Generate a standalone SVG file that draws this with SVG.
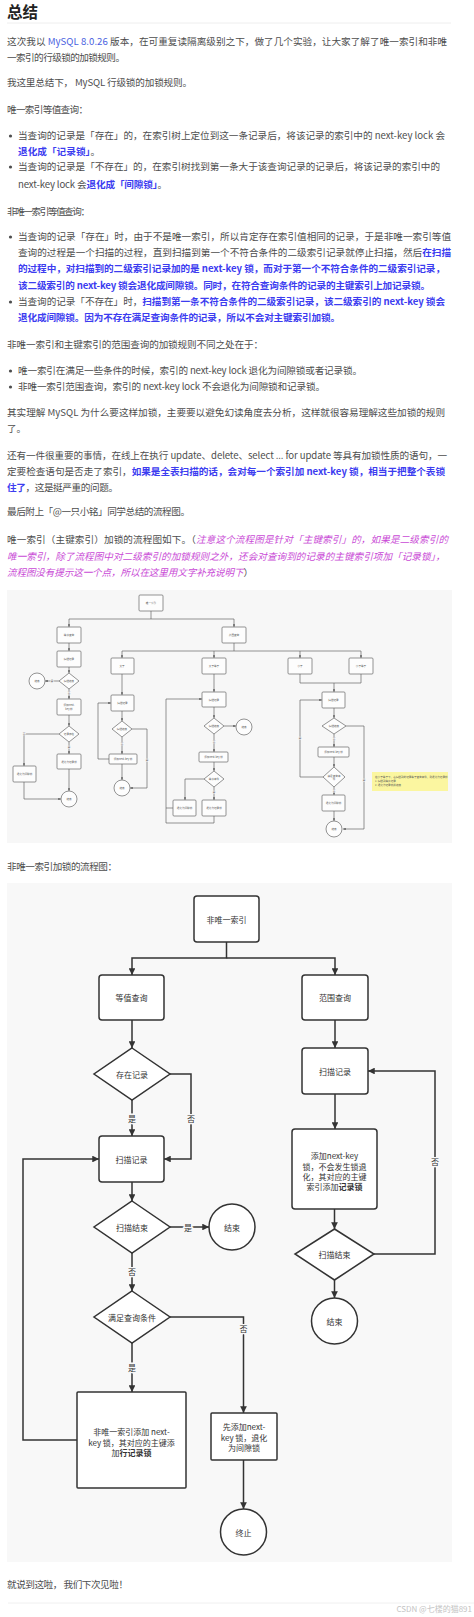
<svg xmlns="http://www.w3.org/2000/svg" width="474" height="1617" viewBox="0 0 474 1617">
<defs>
<style>
.t{font-family:"Noto Sans CJK SC","Liberation Sans",sans-serif;font-size:9.6px;fill:#4d4d4d}
.b{fill:#3c3cf0;font-weight:bold}
.lk{fill:#4a5fe0}
.pi{fill:#c94ad6;font-style:italic}
.ln{stroke:#333;stroke-width:1.5;fill:none}
.nd{stroke:#333;stroke-width:1.5;fill:#fff}
.nt{font-family:"Noto Sans CJK SC","Liberation Sans",sans-serif;font-size:8px;fill:#333;text-anchor:middle;dominant-baseline:central}
.lb{font-family:"Noto Sans CJK SC","Liberation Sans",sans-serif;font-size:8px;fill:#333;text-anchor:middle;dominant-baseline:central;stroke:#f8f8f8;stroke-width:3;paint-order:stroke}
.sl{stroke:#666;stroke-width:0.7;fill:none}
.sn{stroke:#666;stroke-width:0.7;fill:#fdfdfd}
.st{font-family:"Noto Sans CJK SC","Liberation Sans",sans-serif;font-size:2.6px;fill:#555;text-anchor:middle;dominant-baseline:central}
.sb{font-family:"Noto Sans CJK SC","Liberation Sans",sans-serif;font-size:2.6px;fill:#555;text-anchor:middle;dominant-baseline:central;stroke:#f7f7f7;stroke-width:1;paint-order:stroke}
</style>
<marker id="a" viewBox="0 0 10 10" refX="10" refY="5" markerWidth="4.5" markerHeight="4.5" orient="auto" markerUnits="strokeWidth"><path d="M0,0 L10,5 L0,10 z" fill="#333"/></marker>
<marker id="s" viewBox="0 0 10 10" refX="10" refY="5" markerWidth="4" markerHeight="4" orient="auto" markerUnits="strokeWidth"><path d="M0,0 L10,5 L0,10 z" fill="#666"/></marker>
</defs>
<rect width="474" height="1617" fill="#fff"/>

<g id="article">
<text x="7" y="17.5" style="font-family:'Noto Sans CJK SC',sans-serif;font-size:15.5px;font-weight:bold;fill:#222">总结</text>
<line x1="7" y1="23" x2="451" y2="23" stroke="#eee" stroke-width="1"/>
<text class="t" x="7" y="45.3" textLength="440" lengthAdjust="spacing">这次我以 <tspan class="lk">MySQL 8.0.26</tspan> 版本，在可重复读隔离级别之下，做了几个实验，让大家了解了唯一索引和非唯</text>
<text class="t" x="7" y="61.3" textLength="118" lengthAdjust="spacing">一索引的行级锁的加锁规则。</text>
<text class="t" x="7" y="86.3" textLength="185" lengthAdjust="spacing">我这里总结下， MySQL 行级锁的加锁规则。</text>
<text class="t" x="7" y="113.3" textLength="81" lengthAdjust="spacing">唯一索引等值查询：</text>
<circle cx="10.5" cy="136" r="1.6" fill="#4d4d4d"/>
<text class="t" x="18" y="139.3" textLength="427" lengthAdjust="spacing">当查询的记录是「存在」的，在索引树上定位到这一条记录后，将该记录的索引中的 next-key lock 会</text>
<text class="t" x="18" y="155.3" textLength="82" lengthAdjust="spacing"><tspan class="b">退化成「记录锁」</tspan>。</text>
<circle cx="10.5" cy="167" r="1.6" fill="#4d4d4d"/>
<text class="t" x="18" y="170.3" textLength="422" lengthAdjust="spacing">当查询的记录是「不存在」的，在索引树找到第一条大于该查询记录的记录后，将该记录的索引中的</text>
<text class="t" x="18" y="188.3" textLength="149" lengthAdjust="spacing">next-key lock 会<tspan class="b">退化成「间隙锁」</tspan>。</text>
<text class="t" x="7" y="215.3" textLength="83" lengthAdjust="spacing">非唯一索引等值查询：</text>
<circle cx="10.5" cy="237" r="1.6" fill="#4d4d4d"/>
<text class="t" x="18" y="240.3" textLength="433" lengthAdjust="spacing">当查询的记录「存在」时，由于不是唯一索引，所以肯定存在索引值相同的记录，于是非唯一索引等值</text>
<text class="t" x="18" y="256.3" textLength="433" lengthAdjust="spacing">查询的过程是一个扫描的过程，直到扫描到第一个不符合条件的二级索引记录就停止扫描，然后<tspan class="b">在扫描</tspan></text>
<text class="t" x="18" y="272.3" textLength="427" lengthAdjust="spacing"><tspan class="b">的过程中，对扫描到的二级索引记录加的是 next-key 锁，而对于第一个不符合条件的二级索引记录，</tspan></text>
<text class="t" x="18" y="289.3" textLength="412" lengthAdjust="spacing"><tspan class="b">该二级索引的 next-key 锁会退化成间隙锁。同时，在符合查询条件的记录的主键索引上加记录锁。</tspan></text>
<circle cx="10.5" cy="302" r="1.6" fill="#4d4d4d"/>
<text class="t" x="18" y="305.3" textLength="427" lengthAdjust="spacing">当查询的记录「不存在」时，<tspan class="b">扫描到第一条不符合条件的二级索引记录，该二级索引的 next-key 锁会</tspan></text>
<text class="t" x="18" y="321.3" textLength="322" lengthAdjust="spacing"><tspan class="b">退化成间隙锁。因为不存在满足查询条件的记录，所以不会对主键索引加锁。</tspan></text>
<text class="t" x="7" y="348.3" textLength="256" lengthAdjust="spacing">非唯一索引和主键索引的范围查询的加锁规则不同之处在于：</text>
<circle cx="10.5" cy="371" r="1.6" fill="#4d4d4d"/>
<text class="t" x="18" y="374.3" textLength="344" lengthAdjust="spacing">唯一索引在满足一些条件的时候，索引的 next-key lock 退化为间隙锁或者记录锁。</text>
<circle cx="10.5" cy="387" r="1.6" fill="#4d4d4d"/>
<text class="t" x="18" y="390.3" textLength="307" lengthAdjust="spacing">非唯一索引范围查询，索引的 next-key lock 不会退化为间隙锁和记录锁。</text>
<text class="t" x="7" y="416.3" textLength="438" lengthAdjust="spacing">其实理解 MySQL 为什么要这样加锁，主要要以避免幻读角度去分析，这样就很容易理解这些加锁的规则</text>
<text class="t" x="7" y="432.3">了。</text>
<text class="t" x="7" y="459.3" textLength="440" lengthAdjust="spacing">还有一件很重要的事情，在线上在执行 update、delete、select ... for update 等具有加锁性质的语句，一</text>
<text class="t" x="7" y="475.3" textLength="438" lengthAdjust="spacing">定要检查语句是否走了索引，<tspan class="b">如果是全表扫描的话，会对每一个索引加 next-key 锁，相当于把整个表锁</tspan></text>
<text class="t" x="7" y="491.3" textLength="111" lengthAdjust="spacing"><tspan class="b">住了</tspan>，这是挺严重的问题。</text>
<text class="t" x="7" y="515.3" textLength="183" lengthAdjust="spacing">最后附上「@一只小铭」同学总结的流程图。</text>
<text class="t" x="7" y="543.3" textLength="441" lengthAdjust="spacing">唯一索引（主键索引）加锁的流程图如下。（<tspan class="pi">注意这个流程图是针对「主键索引」的，如果是二级索引的</tspan></text>
<text class="t" x="7" y="560.3" textLength="438" lengthAdjust="spacing"><tspan class="pi">唯一索引，除了流程图中对二级索引的加锁规则之外，还会对查询到的记录的主键索引项加「记录锁」，</tspan></text>
<text class="t" x="7" y="576.3" textLength="246" lengthAdjust="spacing"><tspan class="pi">流程图没有提示这一个点，所以在这里用文字补充说明下</tspan>）</text>
<text class="t" x="7" y="870.3" textLength="110" lengthAdjust="spacing">非唯一索引加锁的流程图：</text>
<text class="t" x="7" y="1588.3" textLength="121" lengthAdjust="spacing">就说到这啦， 我们下次见啦！</text>
<line x1="8" y1="1603" x2="474" y2="1603" stroke="#f0f0f0" stroke-width="1"/>
<text x="472" y="1612" text-anchor="end" style="font-family:'Noto Sans CJK SC',sans-serif;font-size:8px;fill:#c4c4c4">CSDN @七楼的猫891</text>
</g>

<!-- small unique-index flowchart -->
<rect x="7" y="590" width="445" height="253" fill="#f7f7f7"/>
<g id="small-connectors">
<path class="sl" d="M151,611 V619 M69,619 H234"/>
<path class="sl" d="M69,619 V627" marker-end="url(#s)"/>
<path class="sl" d="M234,619 V627" marker-end="url(#s)"/>
<path class="sl" d="M234,643 V651 M122,651 H361"/>
<path class="sl" d="M122,651 V658" marker-end="url(#s)"/>
<path class="sl" d="M214,651 V658" marker-end="url(#s)"/>
<path class="sl" d="M300,651 V658" marker-end="url(#s)"/>
<path class="sl" d="M361,651 V658" marker-end="url(#s)"/>
<path class="sl" d="M69,643 V651" marker-end="url(#s)"/>
<path class="sl" d="M69,667 V673" marker-end="url(#s)"/>
<path class="sl" d="M59,681 H45" marker-end="url(#s)"/>
<path class="sl" d="M69,689 V699" marker-end="url(#s)"/>
<path class="sl" d="M69,715 V726" marker-end="url(#s)"/>
<path class="sl" d="M59,734 H24 V766" marker-end="url(#s)"/>
<path class="sl" d="M69,742 V754" marker-end="url(#s)"/>
<path class="sl" d="M69,769 V791" marker-end="url(#s)"/>
<path class="sl" d="M24,782 V799 H61" marker-end="url(#s)"/>
<path class="sl" d="M122,674 V695" marker-end="url(#s)"/>
<path class="sl" d="M122,711 V721" marker-end="url(#s)"/>
<path class="sl" d="M132,729 H147 V788 H130" marker-end="url(#s)"/>
<path class="sl" d="M122,737 V754" marker-end="url(#s)"/>
<path class="sl" d="M122,764 V780" marker-end="url(#s)"/>
<path class="sl" d="M109,759 H98 V703 H111" marker-end="url(#s)"/>
<path class="sl" d="M214,674 V692" marker-end="url(#s)"/>
<path class="sl" d="M214,707 V718" marker-end="url(#s)"/>
<path class="sl" d="M224,726 H236" marker-end="url(#s)"/>
<path class="sl" d="M214,734 V752" marker-end="url(#s)"/>
<path class="sl" d="M214,762 V771" marker-end="url(#s)"/>
<path class="sl" d="M204,779 H185 V800" marker-end="url(#s)"/>
<path class="sl" d="M214,787 V800" marker-end="url(#s)"/>
<path class="sl" d="M173,808 H166 M214,816 V823 H166 V699 H202" marker-end="url(#s)"/>
<path class="sl" d="M300,674 V683 H361 V674"/>
<path class="sl" d="M334,683 V692" marker-end="url(#s)"/>
<path class="sl" d="M334,708 V718" marker-end="url(#s)"/>
<path class="sl" d="M346,726 H364 V829 H343" marker-end="url(#s)"/>
<path class="sl" d="M334,734 V747" marker-end="url(#s)"/>
<path class="sl" d="M334,757 V767" marker-end="url(#s)"/>
<path class="sl" d="M323,777 H300 V700 H322" marker-end="url(#s)"/>
<path class="sl" d="M334,787 V795" marker-end="url(#s)"/>
<path class="sl" d="M334,811 V821" marker-end="url(#s)"/>
<text class="sb" x="52" y="681">是</text>
<text class="sb" x="69" y="693">否</text>
<text class="sb" x="24" y="734">否</text>
<text class="sb" x="69" y="747">是</text>
<text class="sb" x="147" y="760">是</text>
<text class="sb" x="122" y="744">否</text>
<text class="sb" x="214" y="742">否</text>
<text class="sb" x="214" y="792">是</text>
<text class="sb" x="364" y="780">是</text>
<text class="sb" x="334" y="739">否</text>
<text class="sb" x="300" y="738">是</text>
<text class="sb" x="334" y="791">否</text>
</g>
<g id="s-root"><rect class="sn" x="139" y="595" width="24" height="16" rx="1"/><text class="st" x="151" y="603">唯一索引</text></g>
<g id="s-eq"><rect class="sn" x="57" y="627" width="24" height="16" rx="1"/><text class="st" x="69" y="635">等值查询</text></g>
<g id="s-range"><rect class="sn" x="222" y="627" width="24" height="16" rx="1"/><text class="st" x="234" y="635">范围查询</text></g>
<g id="s-gt"><rect class="sn" x="111" y="658" width="23" height="16" rx="1"/><text class="st" x="122" y="666">大于</text></g>
<g id="s-ge"><rect class="sn" x="202" y="658" width="24" height="16" rx="1"/><text class="st" x="214" y="666">大于等于</text></g>
<g id="s-lt"><rect class="sn" x="288" y="658" width="24" height="16" rx="1"/><text class="st" x="300" y="666">小于</text></g>
<g id="s-le"><rect class="sn" x="349" y="658" width="24" height="16" rx="1"/><text class="st" x="361" y="666">小于等于</text></g>
<g id="s-e-scan"><rect class="sn" x="57" y="651" width="24" height="16" rx="1"/><text class="st" x="69" y="659">扫描记录</text></g>
<g id="s-e-d1"><polygon class="sn" points="69,673 79,681 69,689 59,681"/><text class="st" x="69" y="681">扫描结束</text></g>
<g id="s-e-end1"><circle class="sn" cx="37" cy="681" r="8"/><text class="st" x="37" y="681">结束</text></g>
<g id="s-e-lock"><rect class="sn" x="57" y="699" width="24" height="16" rx="1"/><text class="st" x="69" y="705">添加next-</text><text class="st" x="69" y="709">key 锁</text></g>
<g id="s-e-d2"><polygon class="sn" points="69,726 79,734 69,742 59,734"/><text class="st" x="69" y="734">记录存在</text></g>
<g id="s-e-gap"><rect class="sn" x="13" y="766" width="23" height="16" rx="1"/><text class="st" x="24.5" y="774">退化为间隙锁</text></g>
<g id="s-e-rec"><rect class="sn" x="57" y="754" width="24" height="15" rx="1"/><text class="st" x="69" y="761.5">退化为记录锁</text></g>
<g id="s-e-end2"><circle class="sn" cx="69" cy="799" r="8"/><text class="st" x="69" y="799">结束</text></g>
<g id="s-g-scan"><rect class="sn" x="111" y="695" width="23" height="16" rx="1"/><text class="st" x="122.5" y="703">扫描记录</text></g>
<g id="s-g-d"><polygon class="sn" points="122,721 132,729 122,737 112,729"/><text class="st" x="122" y="729">扫描结束</text></g>
<g id="s-g-lock"><rect class="sn" x="109" y="754" width="28" height="10" rx="1"/><text class="st" x="123" y="759">添加next-key 锁</text></g>
<g id="s-g-end"><circle class="sn" cx="122" cy="788" r="8"/><text class="st" x="122" y="788">结束</text></g>
<g id="s-ge-scan"><rect class="sn" x="202" y="692" width="24" height="15" rx="1"/><text class="st" x="214" y="699.5">扫描记录</text></g>
<g id="s-ge-d"><polygon class="sn" points="214,718 224,726 214,734 204,726"/><text class="st" x="214" y="726">扫描结束</text></g>
<g id="s-ge-end"><circle class="sn" cx="244" cy="727" r="8"/><text class="st" x="244" y="727">结束</text></g>
<g id="s-ge-lock"><rect class="sn" x="199" y="752" width="29" height="10" rx="1"/><text class="st" x="213.5" y="757">添加next-key 锁</text></g>
<g id="s-ge-d2"><polygon class="sn" points="214,771 224,779 214,787 204,779"/><text class="st" x="214" y="779">等值条件</text></g>
<g id="s-ge-gap"><rect class="sn" x="173" y="800" width="23" height="16" rx="1"/><text class="st" x="184.5" y="808">退化为间隙锁</text></g>
<g id="s-ge-rec"><rect class="sn" x="202" y="800" width="24" height="16" rx="1"/><text class="st" x="214" y="808">退化为记录锁</text></g>
<g id="s-l-scan"><rect class="sn" x="322" y="692" width="23" height="16" rx="1"/><text class="st" x="333.5" y="700">扫描记录</text></g>
<g id="s-l-d"><polygon class="sn" points="334,718 346,726 334,734 322,726"/><text class="st" x="334" y="726">扫描结束</text></g>
<g id="s-l-lock"><rect class="sn" x="318" y="747" width="31" height="10" rx="1"/><text class="st" x="333.5" y="752">添加next-key 锁</text></g>
<g id="s-l-d2"><polygon class="sn" points="334,767 345,777 334,787 323,777"/><text class="st" x="334" y="775.5">满足查询条</text><text class="st" x="334" y="779">件</text></g>
<g id="s-l-gap"><rect class="sn" x="322" y="795" width="23" height="16" rx="1"/><text class="st" x="333.5" y="803">退化为间隙锁</text></g>
<g id="s-l-end"><circle class="sn" cx="334" cy="829" r="8"/><text class="st" x="334" y="829">结束</text></g>
<g id="s-note"><rect x="372" y="772" width="76" height="19" fill="#fbf6a0"/>
<text class="st" x="375" y="777" style="text-anchor:start">在小于等于下，若扫描到的记录等于查询条件，则退化为记录锁</text>
<text class="st" x="375" y="781" style="text-anchor:start">1. 扫描到等值记录</text>
<text class="st" x="375" y="785" style="text-anchor:start">2. 退化为记录锁并结束</text>
</g>

<!-- large non-unique-index flowchart -->
<rect x="7" y="883" width="445" height="679" fill="#f8f8f8"/>
<g id="connectors">
<path class="ln" d="M226.5,942 V958 H132 V975" marker-end="url(#a)"/>
<path class="ln" d="M226.5,958 H335 V975" marker-end="url(#a)"/>
<path class="ln" d="M132,1020 V1048" marker-end="url(#a)"/>
<path class="ln" d="M132,1100 V1136" marker-end="url(#a)"/>
<path class="ln" d="M170,1074 H191 V1159 H164" marker-end="url(#a)"/>
<path class="ln" d="M132,1182 V1201" marker-end="url(#a)"/>
<path class="ln" d="M170,1227 H209" marker-end="url(#a)"/>
<path class="ln" d="M132,1253 V1291" marker-end="url(#a)"/>
<path class="ln" d="M132,1343 V1392" marker-end="url(#a)"/>
<path class="ln" d="M170,1317 H243.5 V1413" marker-end="url(#a)"/>
<path class="ln" d="M243.5,1460 V1509" marker-end="url(#a)"/>
<path class="ln" d="M77,1440 H23 V1159 H99" marker-end="url(#a)"/>
<path class="ln" d="M335,1020 V1048" marker-end="url(#a)"/>
<path class="ln" d="M335,1094 V1129" marker-end="url(#a)"/>
<path class="ln" d="M334.5,1209 V1229" marker-end="url(#a)"/>
<path class="ln" d="M374,1254 H435 V1071 H368" marker-end="url(#a)"/>
<path class="ln" d="M334.5,1280 V1298" marker-end="url(#a)"/>
<text class="lb" x="132" y="1118">是</text>
<text class="lb" x="191" y="1118">否</text>
<text class="lb" x="188" y="1227">是</text>
<text class="lb" x="132" y="1271">否</text>
<text class="lb" x="132" y="1367">是</text>
<text class="lb" x="243.5" y="1328">否</text>
<text class="lb" x="435" y="1161">否</text>
</g>
<g id="n-root"><rect class="nd" x="194" y="896" width="65" height="46" rx="3"/><text class="nt" x="226.5" y="919">非唯一索引</text></g>
<g id="n-eq"><rect class="nd" x="99" y="975" width="65" height="45" rx="3"/><text class="nt" x="131.5" y="997.5">等值查询</text></g>
<g id="n-range"><rect class="nd" x="302" y="975" width="66" height="45" rx="3"/><text class="nt" x="335" y="997.5">范围查询</text></g>
<g id="n-exist"><polygon class="nd" points="132,1048 170,1074 132,1100 94,1074"/><text class="nt" x="132" y="1074">存在记录</text></g>
<g id="n-scan-l"><rect class="nd" x="99" y="1136" width="65" height="46" rx="3"/><text class="nt" x="131.5" y="1159">扫描记录</text></g>
<g id="n-end-l-d"><polygon class="nd" points="132,1201 170,1227 132,1253 94,1227"/><text class="nt" x="132" y="1227">扫描结束</text></g>
<g id="n-end-1"><circle class="nd" cx="232" cy="1227" r="23"/><text class="nt" x="232" y="1227">结束</text></g>
<g id="n-cond"><polygon class="nd" points="132,1291 170,1317 132,1343 94,1317"/><text class="nt" x="132" y="1317">满足查询条件</text></g>
<g id="n-lock-rec"><rect class="nd" x="77" y="1392" width="109" height="96" rx="1"/>
<text class="nt" x="131.5" y="1431">非唯一索引添加 next-</text>
<text class="nt" x="131.5" y="1442">key 锁，其对应的主键添</text>
<text class="nt" x="131.5" y="1452">加<tspan font-weight="bold">行记录锁</tspan></text></g>
<g id="n-lock-gap"><rect class="nd" x="211" y="1413" width="66" height="47" rx="1"/>
<text class="nt" x="244" y="1426">先添加next-</text>
<text class="nt" x="244" y="1437">key 锁，退化</text>
<text class="nt" x="244" y="1447">为间隙锁</text></g>
<g id="n-stop"><circle class="nd" cx="243.5" cy="1532" r="23"/><text class="nt" x="243.5" y="1532">终止</text></g>
<g id="n-scan-r"><rect class="nd" x="302" y="1048" width="66" height="46" rx="3"/><text class="nt" x="335" y="1071">扫描记录</text></g>
<g id="n-nextkey"><rect class="nd" x="292" y="1129" width="85" height="80" rx="3"/>
<text class="nt" x="334.5" y="1155">添加next-key</text>
<text class="nt" x="334.5" y="1166">锁，不会发生锁退</text>
<text class="nt" x="334.5" y="1176">化，其对应的主键</text>
<text class="nt" x="334.5" y="1186">索引添加<tspan font-weight="bold">记录锁</tspan></text></g>
<g id="n-end-r-d"><polygon class="nd" points="334.5,1229 374,1254 334.5,1280 295,1254"/><text class="nt" x="334.5" y="1254">扫描结束</text></g>
<g id="n-end-2"><circle class="nd" cx="334.5" cy="1321" r="23"/><text class="nt" x="334.5" y="1321">结束</text></g>
</svg>
